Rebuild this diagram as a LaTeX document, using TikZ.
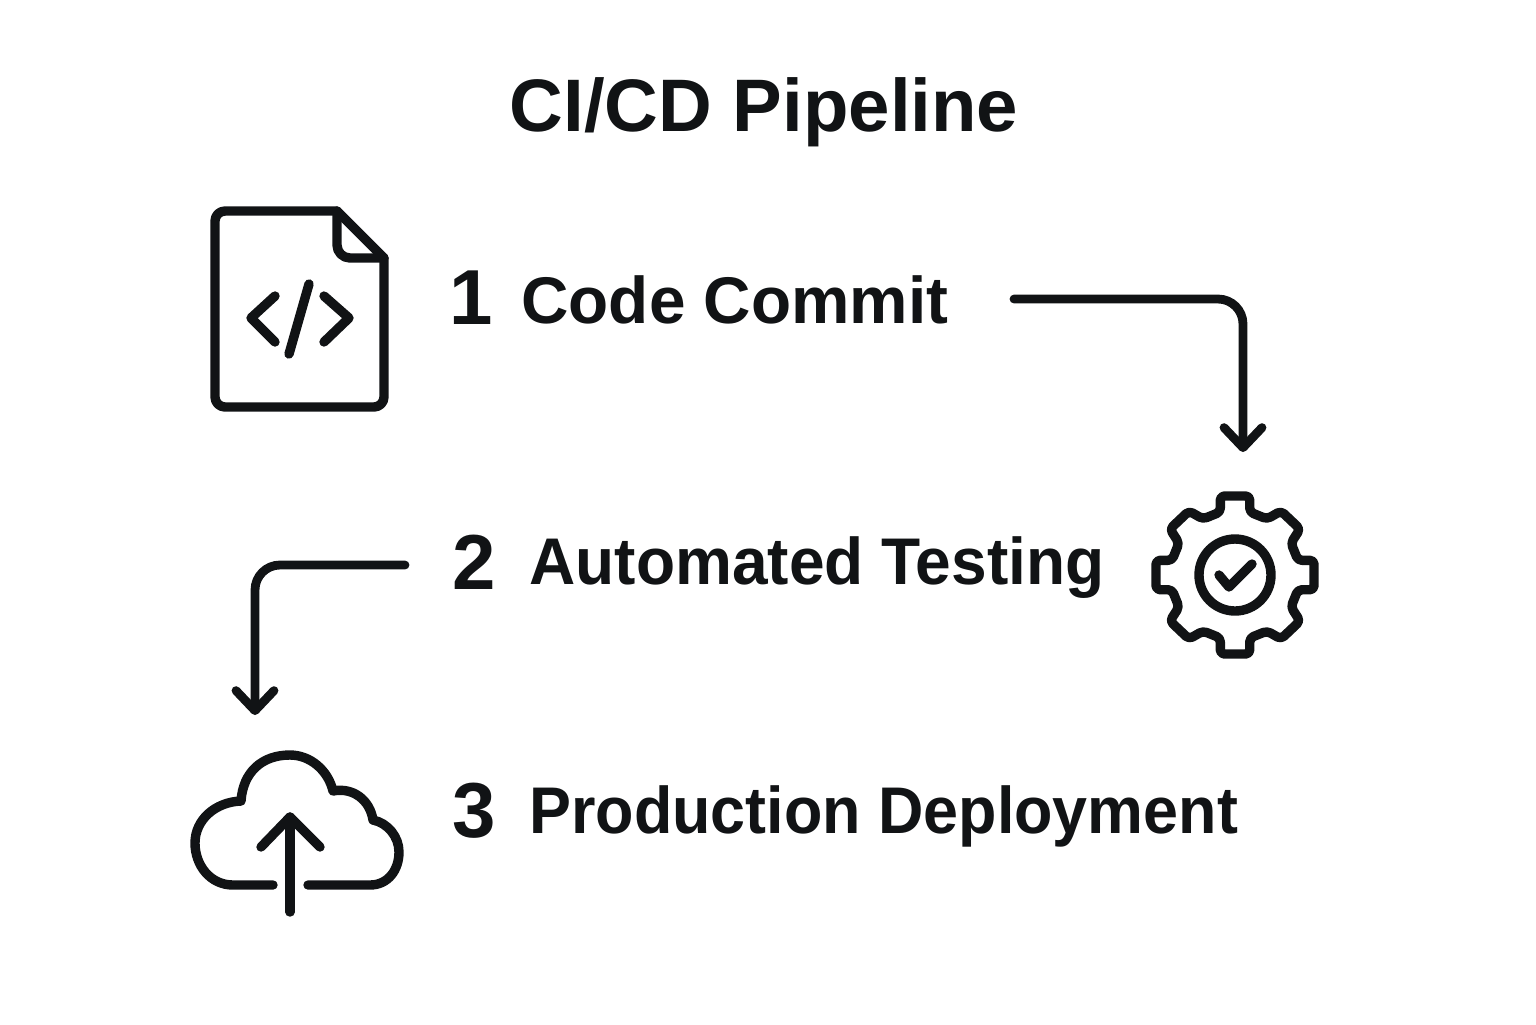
\documentclass[tikz,border=0pt]{standalone}
\usepackage{fontspec}
\setmainfont{Liberation Sans}
\usepackage{tikz}
\usetikzlibrary{arrows.meta}
\definecolor{inkblack}{HTML}{111315}
\tikzset{
  iconline/.style={draw=inkblack, line width=4.7pt, line cap=round, line join=round},
  flowline/.style={draw=inkblack, line width=4.4pt, line cap=round, rounded corners=12.5pt,
    -{Straight Barb[length=10pt, width=19pt, round]}},
  steptext/.style={anchor=base west, inner sep=0pt, text=inkblack, font=\fontsize{33}{36}\selectfont\bfseries},
  stepnum/.style={anchor=base, inner sep=0pt, text=inkblack, font=\fontsize{39}{42}\selectfont\bfseries},
}
\begin{document}
\begin{tikzpicture}[x=0.5pt, y=-0.5pt]
  \useasboundingbox (0,0) rectangle (1536,1024);
  \node[anchor=base, inner sep=0pt, text=inkblack, font=\fontsize{37.2}{40}\selectfont\bfseries] (title) at (764,131) {CI/CD Pipeline};

  % row 1
  \node[stepnum] (commitnum) at (471,324) {1};
  \node[steptext] (commit) at (521,323) {\scalebox{.995}[1]{Code Commit}};
  % row 2
  \node[stepnum] (testingnum) at (474,589) {2};
  \node[steptext] (testing) at (529,584) {\scalebox{.97}[1]{Automated Testing}};
  % row 3
  \node[stepnum] (deploynum) at (474,837) {3};
  \node[steptext] (deploy) at (529,833) {\scalebox{.952}[1]{Production Deployment}};

  % file icon
  \draw[iconline] (337,211) -- (384,258) -- (384,397) arc[start angle=0, end angle=90, radius=10]
    -- (225,407) arc[start angle=90, end angle=180, radius=10] -- (215,221)
    arc[start angle=180, end angle=270, radius=10] -- cycle;
  \draw[iconline] (337,211) -- (337,245) arc[start angle=180, end angle=90, radius=13] -- (384,258);
  \draw[iconline] (275,296) -- (251,318) -- (275,342);
  \draw[iconline] (324,296) -- (349,318) -- (324,342);
  \draw[iconline] (309,284) -- (289,354);

  % gear icon
  \begin{scope}[shift={(1235,575)}]
    \draw[iconline, rounded corners=2pt] (-14.7,-79) -- (14.7,-79) -- (14.7,-63) -- (32,-56) -- (46,-64)
      -- (65,-46) -- (56,-32) -- (63,-14.7) -- (79,-14.7) -- (79,14.7) -- (63,14.7) -- (56,32)
      -- (65,46) -- (46,64) -- (32,56) -- (14.7,63) -- (14.7,79) -- (-14.7,79) -- (-14.7,63)
      -- (-32,56) -- (-46,64) -- (-65,46) -- (-56,32) -- (-63,14.7) -- (-79,14.7) -- (-79,-14.7)
      -- (-63,-14.7) -- (-56,-32) -- (-65,-46) -- (-46,-64) -- (-32,-56) -- (-14.7,-63) -- cycle;
    \draw[iconline] (0,0) circle[radius=36];
    \draw[iconline] (-16,0) -- (-6,12) -- (17,-11);
  \end{scope}

  % cloud icon
  \draw[iconline] (273,885) -- (233,885) .. controls (210,885) and (195,865) .. (195,843)
    .. controls (195,820) and (215,802) .. (241,801) .. controls (243,772) and (262,755) .. (290,755)
    .. controls (310,755) and (328,770) .. (333,791) .. controls (353,787) and (370,800) .. (373,820)
    .. controls (388,823) and (399,837) .. (399,852) .. controls (399,870) and (388,885) .. (370,885)
    -- (308,885);
  \draw[iconline] (290,817) -- (290,912);
  \draw[iconline] (261,847) -- (290,817) -- (320,847);

  % connectors
  \coordinate (commitout) at (1014,299);
  \coordinate (gearin) at (1243,452);
  \coordinate (testingout) at (405,565);
  \coordinate (cloudin) at (255,715);
  \draw[flowline] (commitout) -| (gearin);
  \draw[flowline] (testingout) -| (cloudin);
\end{tikzpicture}
\end{document}
